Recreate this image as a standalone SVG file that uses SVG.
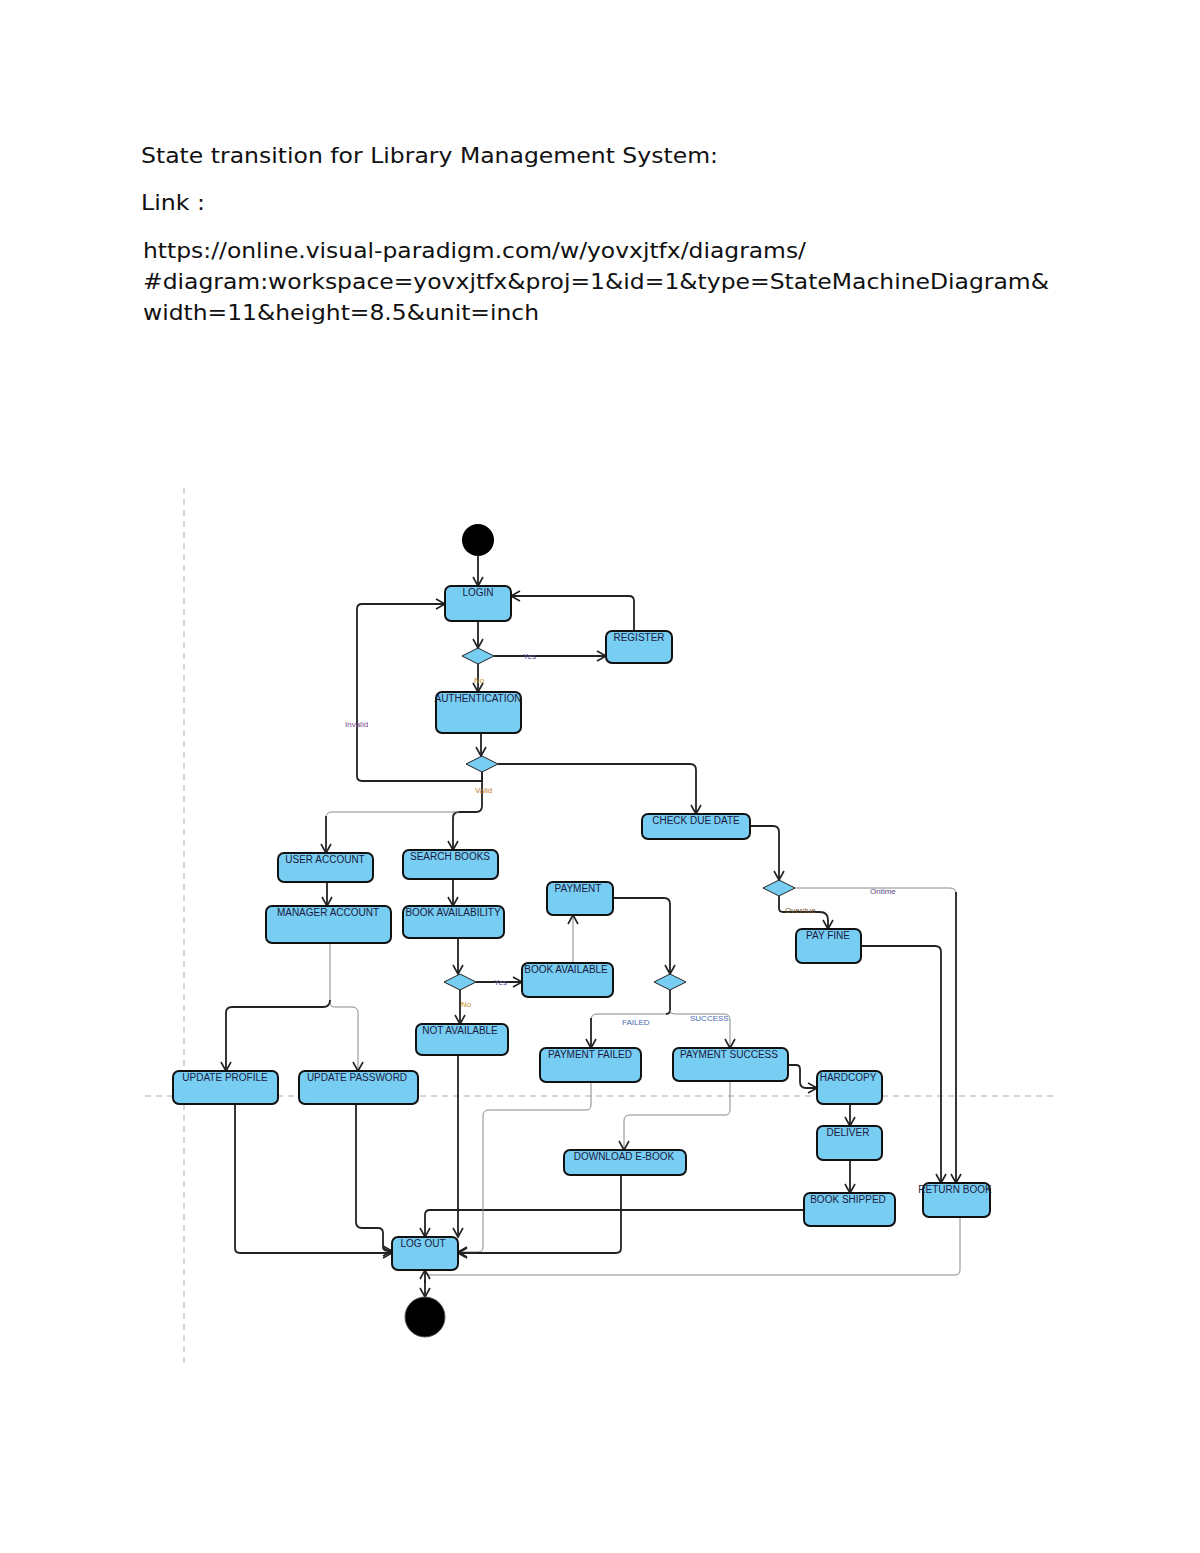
<svg xmlns="http://www.w3.org/2000/svg" width="1200" height="1553" viewBox="0 0 1200 1553">
<style>
.hdr{font-family:"DejaVu Sans",sans-serif;font-size:22px;fill:#111}
.st rect{fill:#78cdf2;stroke:#111;stroke-width:2}
.st text{font-family:"Liberation Sans",Arial,sans-serif;font-size:10px;fill:#1a1a40;text-anchor:middle}
.dia{fill:#78cdf2;stroke:#222;stroke-width:1}
.c{fill:none;stroke:#222;stroke-width:1.8}
.t{fill:none;stroke:#888;stroke-width:1}
.lbl{font-family:"Liberation Sans",Arial,sans-serif;font-size:8px;fill:#5a4a8a}
.guide{stroke:#c8c8c8;stroke-width:1.5;stroke-dasharray:6,5;fill:none}
</style>
<defs>
<marker id="a" markerWidth="12" markerHeight="12" refX="10" refY="6" orient="auto" markerUnits="userSpaceOnUse">
<path d="M1,1 L10,6 L1,11" fill="none" stroke="#222" stroke-width="1.6"/>
</marker>
</defs>
<rect width="1200" height="1553" fill="#fff"/>
<g id="header">
<text class="hdr" x="141" y="163" textLength="577" lengthAdjust="spacingAndGlyphs">State transition for Library Management System:</text>
<text class="hdr" x="141" y="210" textLength="64" lengthAdjust="spacingAndGlyphs">Link :</text>
<text class="hdr" x="143" y="258" textLength="663" lengthAdjust="spacingAndGlyphs">https://online.visual-paradigm.com/w/yovxjtfx/diagrams/</text>
<text class="hdr" x="143" y="289" textLength="906" lengthAdjust="spacingAndGlyphs">#diagram:workspace=yovxjtfx&amp;proj=1&amp;id=1&amp;type=StateMachineDiagram&amp;</text>
<text class="hdr" x="143" y="320" textLength="396" lengthAdjust="spacingAndGlyphs">width=11&amp;height=8.5&amp;unit=inch</text>
</g>
<g id="guides">
<line class="guide" x1="184" y1="488" x2="184" y2="1365"/>
<line class="guide" x1="145" y1="1096" x2="1056" y2="1096"/>
</g>
<g id="connectors">
<path class="c" d="M478,556 V586" marker-end="url(#a)"/>
<path class="c" d="M478,621 V648" marker-end="url(#a)"/>
<path class="c" d="M494,656 H606" marker-end="url(#a)"/>
<path class="c" d="M634,631 V601 q0,-5 -5,-5 H511" marker-end="url(#a)"/>
<path class="c" d="M478,664 V692" marker-end="url(#a)"/>
<path class="c" d="M481,733 V756" marker-end="url(#a)"/>
<path class="c" d="M482,772 V781 H362 q-5,0 -5,-5 V609 q0,-5 5,-5 H445" marker-end="url(#a)"/>
<path class="c" d="M482,772 V806 q0,6 -6,6 H459 q-6,0 -6,6 V850" marker-end="url(#a)"/>
<path class="t" d="M459,812 H332 q-6,0 -6,6" />
<path class="c" d="M326,816 V853" marker-end="url(#a)"/>
<path class="c" d="M498,764 H690 q6,0 6,6 V814" marker-end="url(#a)"/>
<path class="c" d="M327,882 V906" marker-end="url(#a)"/>
<path class="c" d="M453,879 V906" marker-end="url(#a)"/>
<path class="t" d="M330,943 V1002 q0,5 5,5 H352 q6,0 6,6 V1071" marker-end="url(#a)"/>
<path class="c" d="M330,1000 q0,7 -7,7 H232 q-6,0 -6,6 V1071" marker-end="url(#a)"/>
<path class="c" d="M458,938 V974" marker-end="url(#a)"/>
<path class="c" d="M476,982 H522" marker-end="url(#a)"/>
<path class="c" d="M460,990 V1024" marker-end="url(#a)"/>
<path class="t" d="M573,963 V915" marker-end="url(#a)"/>
<path class="c" d="M613,898 H664 q6,0 6,6 V974" marker-end="url(#a)"/>
<path class="c" d="M670,990 V1010 q0,4 -4,4"/>
<path class="t" d="M666,1014 H597 q-6,0 -6,6"/>
<path class="c" d="M591,1018 V1048" marker-end="url(#a)"/>
<path class="t" d="M670,1010 q0,4 4,4 H724 q6,0 6,6 V1048" marker-end="url(#a)"/>
<path class="c" d="M750,826 H773 q6,0 6,6 V880" marker-end="url(#a)"/>
<path class="t" d="M795,888 H950 q6,0 6,6"/>
<path class="c" d="M956,892 V1183" marker-end="url(#a)"/>
<path class="c" d="M779,896 V908 q0,4 4,4 H820 q8,0 8,8 V929" marker-end="url(#a)"/>
<path class="c" d="M861,946 H935 q6,0 6,6 V1183" marker-end="url(#a)"/>
<path class="c" d="M788,1065 H796 q4,0 4,4 V1082 q0,6 6,6 H817" marker-end="url(#a)"/>
<path class="t" d="M730,1081 V1110 q0,5 -5,5 H630 q-6,0 -6,6 V1150" marker-end="url(#a)"/>
<path class="c" d="M850,1104 V1126" marker-end="url(#a)"/>
<path class="c" d="M850,1160 V1193" marker-end="url(#a)"/>
<path class="c" d="M804,1210 H430 q-5,0 -5,5 V1237" marker-end="url(#a)"/>
<path class="c" d="M458,1055 V1237" marker-end="url(#a)"/>
<path class="c" d="M235,1104 V1248 q0,5 5,5 H392" marker-end="url(#a)"/>
<path class="c" d="M356,1104 V1222 q0,6 6,6 H378 q5,0 5,5 V1246 q0,5 5,5 H392" marker-end="url(#a)"/>
<path class="t" d="M591,1082 V1105 q0,5 -5,5 H489 q-6,0 -6,6 V1247 q0,5 -5,5 H458" marker-end="url(#a)"/>
<path class="c" d="M621,1175 V1248 q0,5 -5,5 H458" marker-end="url(#a)"/>
<path class="t" d="M960,1217 V1270 q0,5 -5,5 H430 q-5,0 -5,-5"/>
<path class="c" d="M425,1283 V1270" marker-end="url(#a)"/>
<path class="c" d="M425,1280 V1297" marker-end="url(#a)"/>
<text class="lbl" x="523" y="659">Yes</text>
<text class="lbl" x="474" y="683" fill="#d08a20" style="fill:#c8901a">No</text>
<text class="lbl" x="345" y="727" style="fill:#7a4a8a">Invalid</text>
<text class="lbl" x="475" y="793" style="fill:#c07a30">Valid</text>
<text class="lbl" x="870" y="894">Ontime</text>
<text class="lbl" x="785" y="913" style="fill:#7a5a30">Overdue</text>
<text class="lbl" x="494" y="985">Yes</text>
<text class="lbl" x="461" y="1007" style="fill:#c8901a">No</text>
<text class="lbl" x="622" y="1025" style="fill:#4a6ab0">FAILED</text>
<text class="lbl" x="690" y="1021" style="fill:#4a6ab0">SUCCESS</text>
</g>
<g id="start"><circle cx="478" cy="540" r="16" fill="#000"/></g>
<g id="end"><circle cx="425" cy="1317" r="20" fill="#000" stroke="#555" stroke-width="1"/></g>
<g id="d1"><polygon class="dia" points="462,656 478,648 494,656 478,664"/></g>
<g id="d2"><polygon class="dia" points="466,764 482,756 498,764 482,772"/></g>
<g id="d3"><polygon class="dia" points="763,888 779,880 795,888 779,896"/></g>
<g id="d4"><polygon class="dia" points="444,982 460,974 476,982 460,990"/></g>
<g id="d5"><polygon class="dia" points="654,982 670,974 686,982 670,990"/></g>
<g id="login" class="st"><rect x="445" y="586" width="66" height="35" rx="6"/><text x="478" y="596">LOGIN</text></g>
<g id="register" class="st"><rect x="606" y="631" width="66" height="32" rx="6"/><text x="639" y="641">REGISTER</text></g>
<g id="authentication" class="st"><rect x="436" y="692" width="85" height="41" rx="6"/><text x="478" y="702">AUTHENTICATION</text></g>
<g id="checkduedate" class="st"><rect x="642" y="814" width="108" height="25" rx="6"/><text x="696" y="824">CHECK DUE DATE</text></g>
<g id="useraccount" class="st"><rect x="278" y="853" width="95" height="29" rx="6"/><text x="325" y="863">USER ACCOUNT</text></g>
<g id="searchbooks" class="st"><rect x="403" y="850" width="95" height="29" rx="6"/><text x="450" y="860">SEARCH BOOKS</text></g>
<g id="manageraccount" class="st"><rect x="266" y="906" width="125" height="37" rx="6"/><text x="328" y="916">MANAGER ACCOUNT</text></g>
<g id="bookavailability" class="st"><rect x="403" y="906" width="101" height="32" rx="6"/><text x="453" y="916">BOOK AVAILABILITY</text></g>
<g id="payment" class="st"><rect x="547" y="882" width="66" height="33" rx="6"/><text x="578" y="892">PAYMENT</text></g>
<g id="payfine" class="st"><rect x="796" y="929" width="65" height="34" rx="6"/><text x="828" y="939">PAY FINE</text></g>
<g id="bookavailable" class="st"><rect x="522" y="963" width="91" height="34" rx="6"/><text x="566" y="973">BOOK AVAILABLE</text></g>
<g id="notavailable" class="st"><rect x="416" y="1024" width="92" height="31" rx="6"/><text x="460" y="1034">NOT AVAILABLE</text></g>
<g id="paymentfailed" class="st"><rect x="540" y="1048" width="101" height="34" rx="6"/><text x="590" y="1058">PAYMENT FAILED</text></g>
<g id="paymentsuccess" class="st"><rect x="673" y="1048" width="115" height="33" rx="6"/><text x="729" y="1058">PAYMENT SUCCESS</text></g>
<g id="updateprofile" class="st"><rect x="173" y="1071" width="105" height="33" rx="6"/><text x="225" y="1081">UPDATE PROFILE</text></g>
<g id="updatepassword" class="st"><rect x="299" y="1071" width="119" height="33" rx="6"/><text x="357" y="1081">UPDATE PASSWORD</text></g>
<g id="hardcopy" class="st"><rect x="817" y="1071" width="65" height="33" rx="6"/><text x="848" y="1081">HARDCOPY</text></g>
<g id="deliver" class="st"><rect x="817" y="1126" width="65" height="34" rx="6"/><text x="848" y="1136">DELIVER</text></g>
<g id="downloadebook" class="st"><rect x="564" y="1150" width="122" height="25" rx="6"/><text x="624" y="1160">DOWNLOAD E-BOOK</text></g>
<g id="bookshipped" class="st"><rect x="804" y="1193" width="91" height="33" rx="6"/><text x="848" y="1203">BOOK SHIPPED</text></g>
<g id="returnbook" class="st"><rect x="923" y="1183" width="67" height="34" rx="6"/><text x="955" y="1193">RETURN BOOK</text></g>
<g id="logout" class="st"><rect x="392" y="1237" width="66" height="33" rx="6"/><text x="423" y="1247">LOG OUT</text></g>
</svg>
